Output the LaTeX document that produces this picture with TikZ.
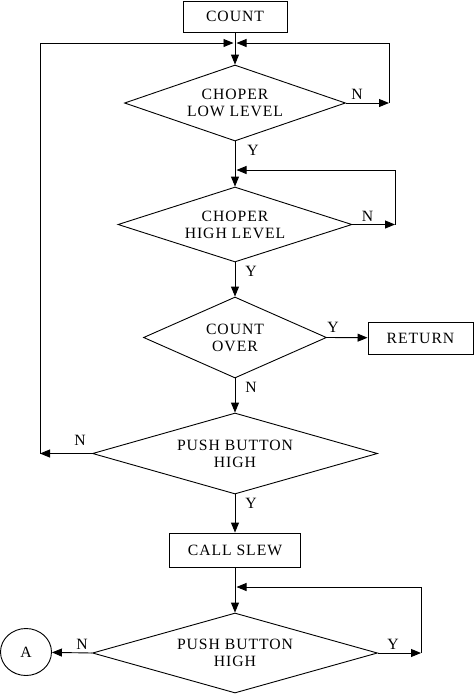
\documentclass[tikz,border=0pt]{standalone}
\usepackage{fontspec}
\setmainfont{Liberation Serif}[LetterSpace=6]
\usetikzlibrary{shapes.geometric,arrows.meta}
\tikzset{
  block/.style={draw, line width=0.9pt, inner sep=0pt, align=center},
  decision/.style={draw, diamond, line width=0.9pt, inner sep=0pt, shape aspect=2.9, align=center},
  arr/.style={line width=0.9pt, -{Triangle[length=10pt,width=8pt]}},
  yn/.style={inner sep=3pt}
}
\begin{document}
\begin{tikzpicture}[x=1pt, y=-1pt, font=\fontsize{15.7}{17}\selectfont]
  \useasboundingbox (0,0) rectangle (474,697);
  % boxes
  \node[block, minimum width=104pt, minimum height=31pt] (count) at (235,16.5) {COUNT};
  \node[block, minimum width=105pt, minimum height=32pt] (ret) at (420.5,338) {RETURN};
  \node[block, minimum width=131pt, minimum height=34pt] (slew) at (235,550) {CALL SLEW};
  \node[draw, ellipse, line width=0.9pt, inner sep=0pt, minimum width=51pt, minimum height=47pt] (a) at (26,652) {A};
  % decisions
  \node[decision, minimum width=221pt, minimum height=76pt] (low) at (235,103) {CHOPER\\LOW LEVEL};
  \node[decision, minimum width=234pt, minimum height=75pt] (high) at (235,224.5) {CHOPER\\HIGH LEVEL};
  \node[decision, minimum width=183pt, minimum height=81pt] (over) at (235,337.5) {COUNT\\OVER};
  \node[decision, minimum width=285pt, minimum height=81pt] (push) at (235,453.5) {PUSH BUTTON\\HIGH};
  \node[decision, minimum width=285pt, minimum height=80pt] (push2) at (235,653) {PUSH BUTTON\\HIGH};
  % loop points
  \coordinate (m1) at (235,43);
  \coordinate (m2) at (235,170);
  \coordinate (m3) at (235,587);
  \coordinate (lowN) at (389,103);
  \coordinate (highN) at (395,224.5);
  \coordinate (pushN) at (40,453.5);
  \coordinate (push2Y) at (421,653);
  % main line
  \draw[arr] (count) -- (low);
  \draw[arr] (low) -- (high) node[yn, pos=0, below right, xshift=9pt] {Y};
  \draw[arr] (high) -- (over) node[yn, pos=0, below right, xshift=7pt] {Y};
  \draw[arr] (over) -- (push) node[yn, pos=0, below right, xshift=7pt] {N};
  \draw[arr] (push) -- (slew) node[yn, pos=0, below right, xshift=7pt] {Y};
  \draw[arr] (slew) -- (push2);
  \draw[arr] (over.east) -- (ret) node[yn, pos=0, above right, xshift=-3pt, yshift=2pt] {Y};
  % loops back
  \draw[arr] (low.east) -- (lowN) node[yn, pos=0, above right, xshift=2pt] {N};
  \draw[arr, shorten >=1.5pt] (lowN) |- (m1);
  \draw[arr] (high.east) -- (highN) node[yn, pos=0, above right, xshift=6pt] {N};
  \draw[arr, shorten >=1.5pt] (highN) |- (m2);
  \draw[arr] (push.west) -- (pushN) node[yn, pos=0, above left, xshift=-3pt, yshift=5pt] {N};
  \draw[arr, shorten >=1.5pt] (pushN) |- (m1);
  \draw[arr] (push2.east) -- (push2Y) node[yn, pos=0, above right, xshift=6pt] {Y};
  \draw[arr, shorten >=1.5pt] (push2Y) |- (m3);
  \draw[arr] (push2.west) -- (a) node[yn, pos=0, above left, xshift=-1pt] {N};
\end{tikzpicture}
\end{document}
